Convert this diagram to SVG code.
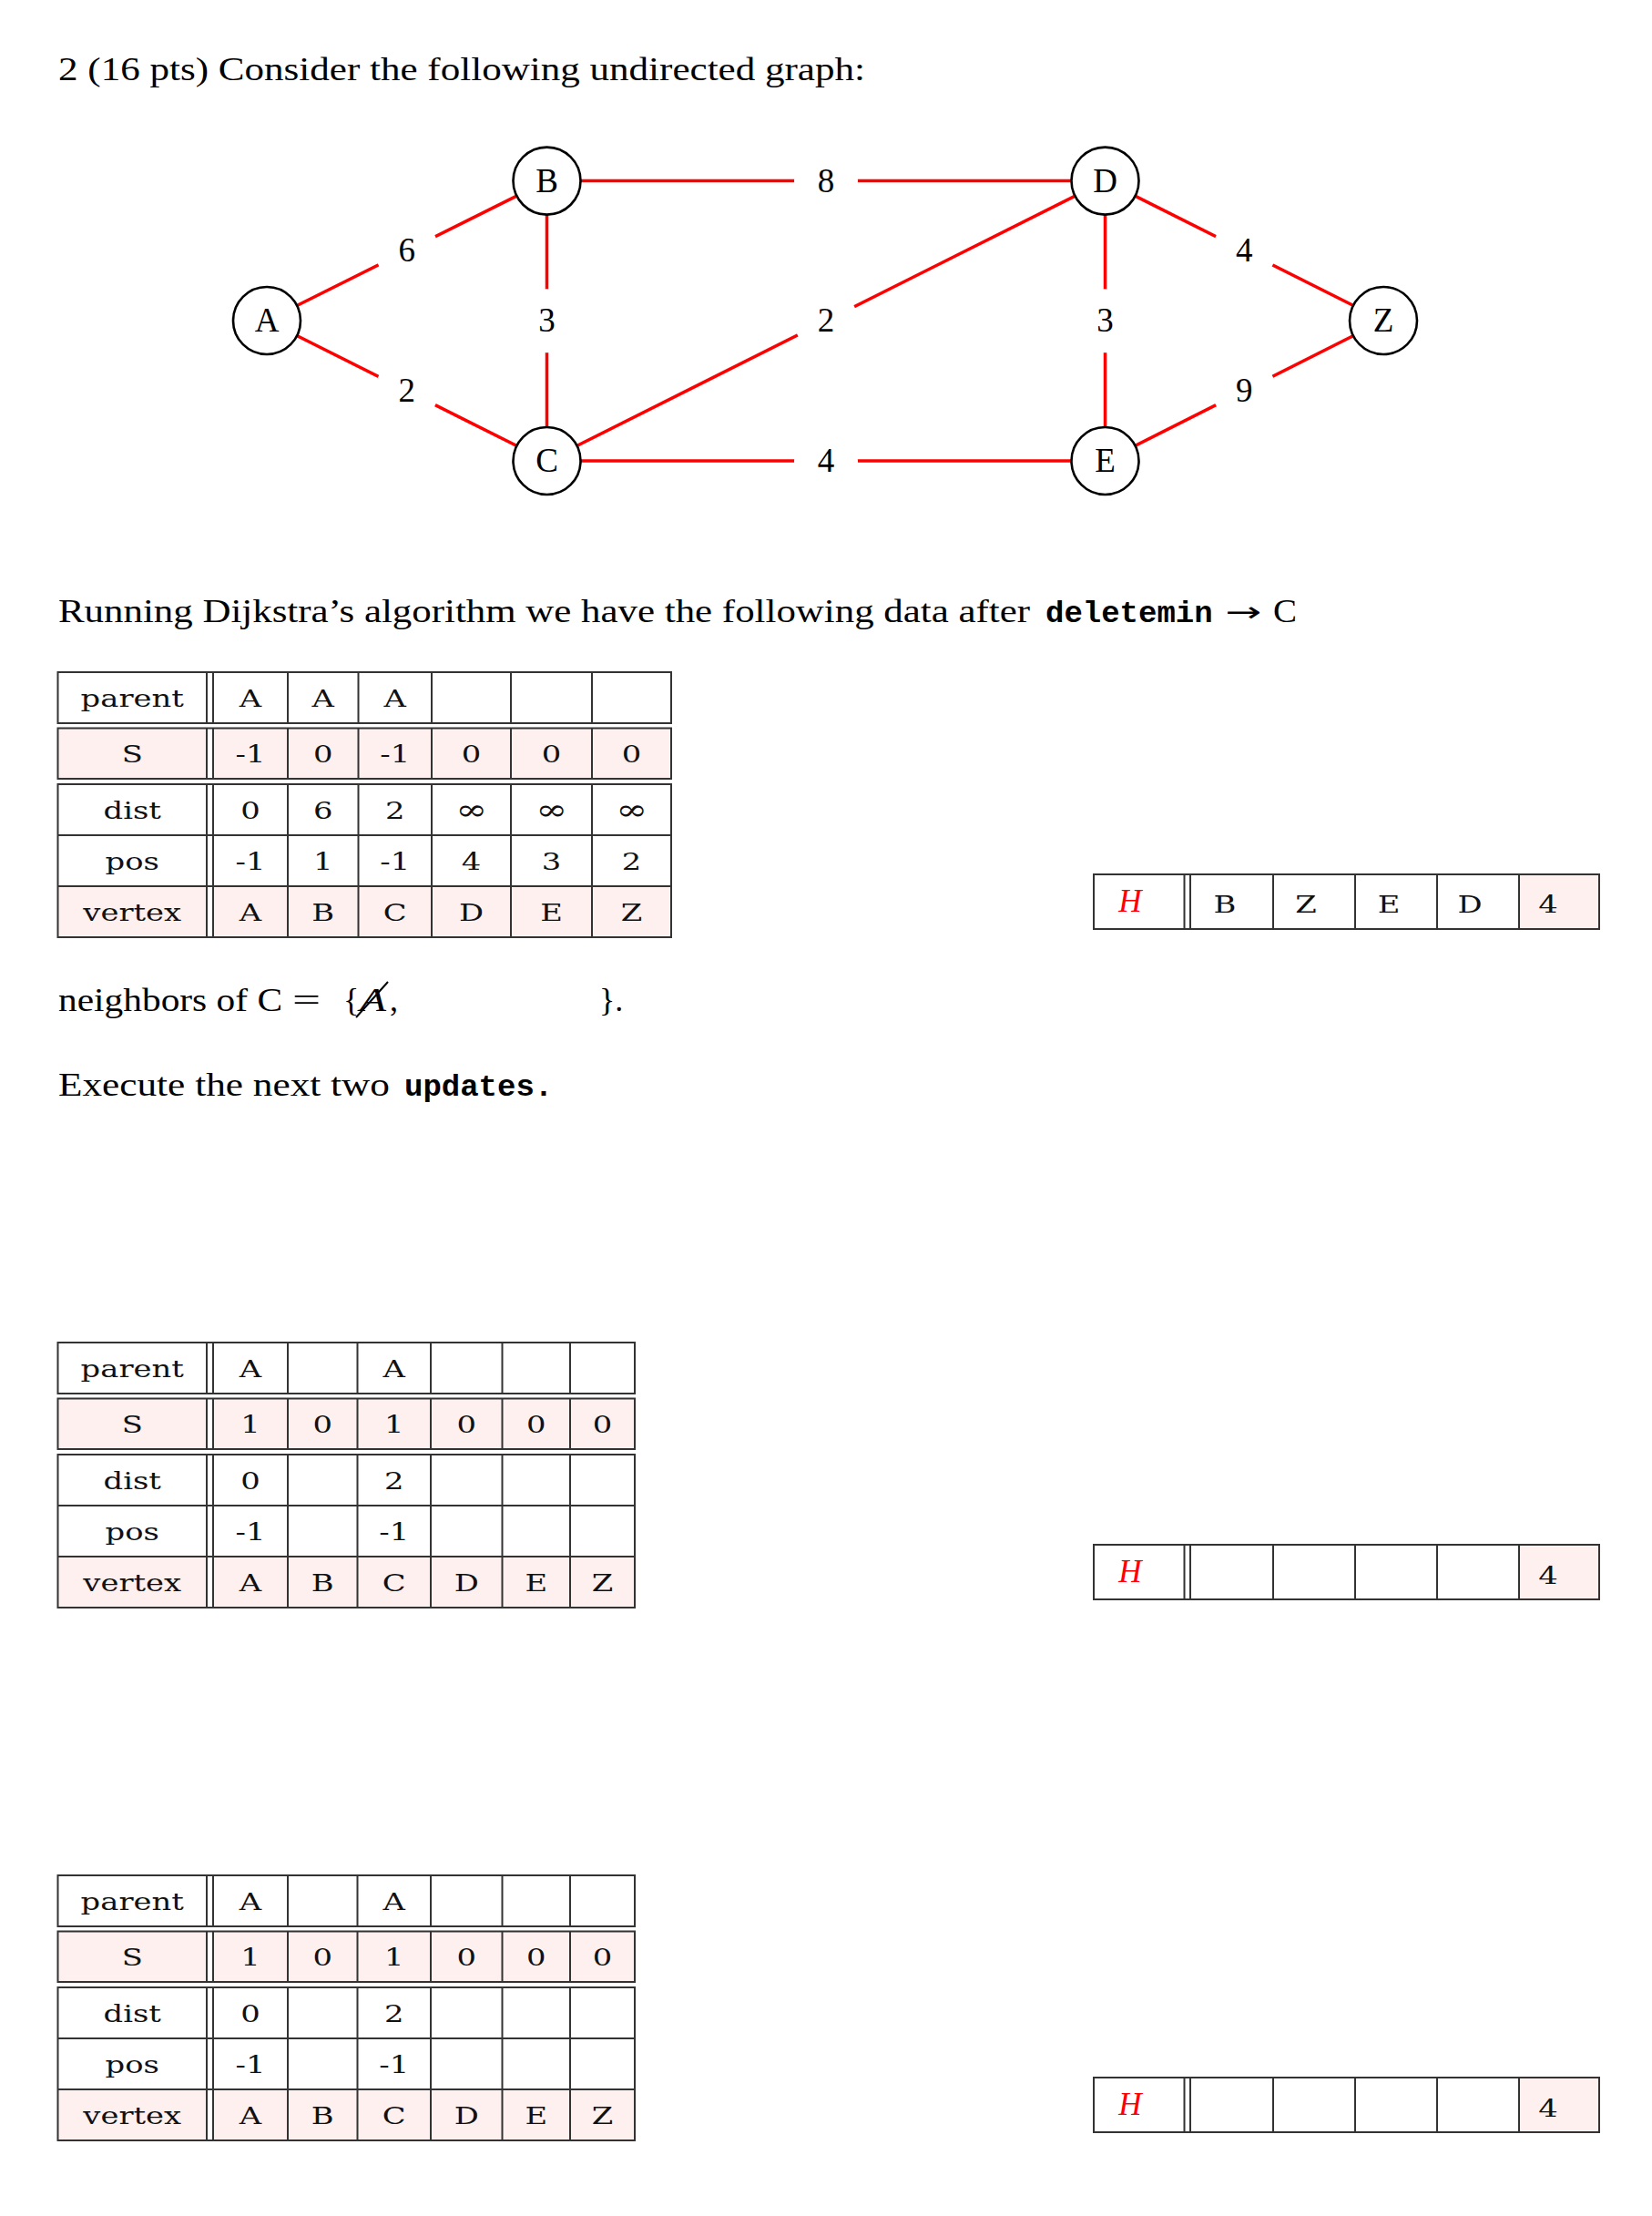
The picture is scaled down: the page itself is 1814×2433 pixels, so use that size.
<svg xmlns="http://www.w3.org/2000/svg" width="1814" height="2433" viewBox="0 0 1814 2433">
<style>
.t{font-family:"Liberation Serif","DejaVu Serif",serif;font-size:36px;fill:#000}
.ar{font-family:"DejaVu Sans",sans-serif;font-size:30px;fill:#000}
.tt{font-family:"Liberation Mono","DejaVu Sans Mono",monospace;font-size:34px;font-weight:bold;fill:#000}
.edge{stroke:#ff0000;stroke-width:3.5;fill:none}
.node circle{fill:#fff;stroke:#000;stroke-width:2.6}
.nl{font-family:"Liberation Serif","DejaVu Serif",serif;font-size:37px;text-anchor:middle;fill:#000}
.lbl circle{fill:#fff}
.grid{stroke:#333;stroke-width:2;fill:none}
.pink{fill:#fff0f0}
.wht{fill:#fff}
.c{font-family:"DejaVu Serif",serif;font-size:26px;text-anchor:middle;fill:#111}
.inf{font-size:32px}
.h{font-family:"Liberation Serif","DejaVu Serif",serif;font-style:italic;font-size:35px;fill:#ff0000;text-anchor:middle}
</style>
<rect width="1814" height="2433" fill="#fff"/>

<g id="texts">
<text class="t" x="64" y="88" textLength="886" lengthAdjust="spacingAndGlyphs">2 (16 pts) Consider the following undirected graph:</text>
<text class="t" x="64" y="683" textLength="1067" lengthAdjust="spacingAndGlyphs">Running Dijkstra’s algorithm we have the following data after</text>
<text class="tt" x="1148" y="683">deletemin</text>
<text class="ar" x="1345" y="682" textLength="40" lengthAdjust="spacingAndGlyphs">→</text>
<text class="t" x="1398" y="683" textLength="26" lengthAdjust="spacingAndGlyphs">C</text>
<text class="t" x="64" y="1110" textLength="246" lengthAdjust="spacingAndGlyphs">neighbors of C</text>
<text class="t" x="321" y="1110" textLength="31" lengthAdjust="spacingAndGlyphs">=</text>
<text class="t" x="377" y="1110">{</text>
<text class="t" x="395" y="1110" font-style="italic" textLength="29" lengthAdjust="spacingAndGlyphs">A</text>
<text class="t" x="428" y="1110">,</text>
<line x1="391" y1="1117" x2="426" y2="1078" stroke="#000" stroke-width="2"/>
<text class="t" x="658" y="1110">}.</text>
<text class="t" x="64" y="1203" textLength="364" lengthAdjust="spacingAndGlyphs">Execute the next two</text>
<text class="tt" x="444" y="1203">updates.</text>
</g>

<g id="connectors">
<line class="edge" x1="293" y1="352" x2="600.5" y2="198.6"/>
<line class="edge" x1="293" y1="352" x2="600.5" y2="506"/>
<line class="edge" x1="600.5" y1="198.6" x2="600.5" y2="506"/>
<line class="edge" x1="600.5" y1="198.6" x2="1213.5" y2="198.6"/>
<line class="edge" x1="600.5" y1="506" x2="1213.5" y2="198.6"/>
<line class="edge" x1="600.5" y1="506" x2="1213.5" y2="506"/>
<line class="edge" x1="1213.5" y1="198.6" x2="1213.5" y2="506"/>
<line class="edge" x1="1213.5" y1="198.6" x2="1519" y2="352"/>
<line class="edge" x1="1213.5" y1="506" x2="1519" y2="352"/>
<g class="lbl"><circle cx="446.75" cy="275.3" r="35"/><text class="nl" x="446.75" y="287.3">6</text></g>
<g class="lbl"><circle cx="446.75" cy="429" r="35"/><text class="nl" x="446.75" y="441">2</text></g>
<g class="lbl"><circle cx="600.5" cy="352.3" r="35"/><text class="nl" x="600.5" y="364.3">3</text></g>
<g class="lbl"><circle cx="907" cy="198.6" r="35"/><text class="nl" x="907" y="210.6">8</text></g>
<g class="lbl"><circle cx="907" cy="352.3" r="35"/><text class="nl" x="907" y="364.3">2</text></g>
<g class="lbl"><circle cx="907" cy="506" r="35"/><text class="nl" x="907" y="518">4</text></g>
<g class="lbl"><circle cx="1213.5" cy="352.3" r="35"/><text class="nl" x="1213.5" y="364.3">3</text></g>
<g class="lbl"><circle cx="1366.25" cy="275.3" r="35"/><text class="nl" x="1366.25" y="287.3">4</text></g>
<g class="lbl"><circle cx="1366.25" cy="429" r="35"/><text class="nl" x="1366.25" y="441">9</text></g>
</g>

<g id="node-A" class="node"><circle cx="293" cy="352" r="37"/><text class="nl" x="293" y="364">A</text></g>
<g id="node-B" class="node"><circle cx="600.5" cy="198.6" r="37"/><text class="nl" x="600.5" y="210.6">B</text></g>
<g id="node-C" class="node"><circle cx="600.5" cy="506" r="37"/><text class="nl" x="600.5" y="518">C</text></g>
<g id="node-D" class="node"><circle cx="1213.5" cy="198.6" r="37"/><text class="nl" x="1213.5" y="210.6">D</text></g>
<g id="node-E" class="node"><circle cx="1213.5" cy="506" r="37"/><text class="nl" x="1213.5" y="518">E</text></g>
<g id="node-Z" class="node"><circle cx="1519" cy="352" r="37"/><text class="nl" x="1519" y="364">Z</text></g>

<!-- Table 1 -->
<g id="table1">
<rect class="pink" x="63.5" y="799.5" width="673.5" height="55.5"/>
<rect class="pink" x="63.5" y="973" width="673.5" height="56"/>
<rect class="wht" x="228" y="799.5" width="5" height="55.5"/>
<rect class="wht" x="228" y="973" width="5" height="56"/>
<rect class="grid" x="63.5" y="738" width="673.5" height="56"/>
<path class="grid" d="M227 738V794M234 738V794M316 738V794M393.5 738V794M474 738V794M561 738V794M650 738V794"/>
<rect class="grid" x="63.5" y="799.5" width="673.5" height="55.5"/>
<path class="grid" d="M227 799.5V855M234 799.5V855M316 799.5V855M393.5 799.5V855M474 799.5V855M561 799.5V855M650 799.5V855"/>
<rect class="grid" x="63.5" y="861" width="673.5" height="168"/>
<path class="grid" d="M63.5 917H737M63.5 973H737M227 861V1029M234 861V1029M316 861V1029M393.5 861V1029M474 861V1029M561 861V1029M650 861V1029"/>
<g transform="scale(1.3,1)">
<text class="c" x="111.73" y="776">parent</text>
<text class="c" x="211.54" y="776">A</text><text class="c" x="272.88" y="776">A</text><text class="c" x="333.65" y="776">A</text>
<text class="c" x="111.73" y="837">S</text>
<text class="c" x="211.54" y="837">-1</text><text class="c" x="272.88" y="837">0</text><text class="c" x="333.65" y="837">-1</text><text class="c" x="398.08" y="837">0</text><text class="c" x="465.77" y="837">0</text><text class="c" x="533.46" y="837">0</text>
<text class="c" x="111.73" y="899">dist</text>
<text class="c" x="211.54" y="899">0</text><text class="c" x="272.88" y="899">6</text><text class="c" x="333.65" y="899">2</text><text class="c inf" x="398.08" y="900">∞</text><text class="c inf" x="465.77" y="900">∞</text><text class="c inf" x="533.46" y="900">∞</text>
<text class="c" x="111.73" y="955">pos</text>
<text class="c" x="211.54" y="955">-1</text><text class="c" x="272.88" y="955">1</text><text class="c" x="333.65" y="955">-1</text><text class="c" x="398.08" y="955">4</text><text class="c" x="465.77" y="955">3</text><text class="c" x="533.46" y="955">2</text>
<text class="c" x="111.73" y="1011">vertex</text>
<text class="c" x="211.54" y="1011">A</text><text class="c" x="272.88" y="1011">B</text><text class="c" x="333.65" y="1011">C</text><text class="c" x="398.08" y="1011">D</text><text class="c" x="465.77" y="1011">E</text><text class="c" x="533.46" y="1011">Z</text>
</g>
</g>

<!-- Heap 1 -->
<g id="heap1">
<rect class="pink" x="1668" y="960" width="88" height="60"/>
<rect class="grid" x="1201" y="960" width="555" height="60"/>
<path class="grid" d="M1300.5 960V1020M1307 960V1020M1398 960V1020M1488 960V1020M1578 960V1020M1668 960V1020"/>
<text class="h" x="1241" y="1001">H</text>
<g transform="scale(1.3,1)">
<text class="c" x="1034.62" y="1002">B</text><text class="c" x="1103.08" y="1002">Z</text><text class="c" x="1173.08" y="1002">E</text><text class="c" x="1241.54" y="1002">D</text><text class="c" x="1307.69" y="1002">4</text>
</g>
</g>

<!-- Table 2 -->
<g id="table2">
<rect class="pink" x="63.5" y="1535.5" width="633.5" height="55.5"/>
<rect class="pink" x="63.5" y="1709" width="633.5" height="56"/>
<rect class="wht" x="228" y="1535.5" width="5" height="55.5"/>
<rect class="wht" x="228" y="1709" width="5" height="56"/>
<rect class="grid" x="63.5" y="1474" width="633.5" height="56"/>
<path class="grid" d="M227 1474V1530M234 1474V1530M316 1474V1530M392.5 1474V1530M473 1474V1530M551.5 1474V1530M626 1474V1530"/>
<rect class="grid" x="63.5" y="1535.5" width="633.5" height="55.5"/>
<path class="grid" d="M227 1535.5V1591M234 1535.5V1591M316 1535.5V1591M392.5 1535.5V1591M473 1535.5V1591M551.5 1535.5V1591M626 1535.5V1591"/>
<rect class="grid" x="63.5" y="1597" width="633.5" height="168"/>
<path class="grid" d="M63.5 1653H697M63.5 1709H697M227 1597V1765M234 1597V1765M316 1597V1765M392.5 1597V1765M473 1597V1765M551.5 1597V1765M626 1597V1765"/>
<g transform="scale(1.3,1)">
<text class="c" x="111.73" y="1512">parent</text>
<text class="c" x="211.54" y="1512">A</text><text class="c" x="332.88" y="1512">A</text>
<text class="c" x="111.73" y="1573">S</text>
<text class="c" x="211.54" y="1573">1</text><text class="c" x="272.5" y="1573">0</text><text class="c" x="332.88" y="1573">1</text><text class="c" x="394.04" y="1573">0</text><text class="c" x="452.88" y="1573">0</text><text class="c" x="508.85" y="1573">0</text>
<text class="c" x="111.73" y="1635">dist</text>
<text class="c" x="211.54" y="1635">0</text><text class="c" x="332.88" y="1635">2</text>
<text class="c" x="111.73" y="1691">pos</text>
<text class="c" x="211.54" y="1691">-1</text><text class="c" x="332.88" y="1691">-1</text>
<text class="c" x="111.73" y="1747">vertex</text>
<text class="c" x="211.54" y="1747">A</text><text class="c" x="272.5" y="1747">B</text><text class="c" x="332.88" y="1747">C</text><text class="c" x="394.04" y="1747">D</text><text class="c" x="452.88" y="1747">E</text><text class="c" x="508.85" y="1747">Z</text>
</g>
</g>

<!-- Heap 2 -->
<g id="heap2">
<rect class="pink" x="1668" y="1696" width="88" height="60"/>
<rect class="grid" x="1201" y="1696" width="555" height="60"/>
<path class="grid" d="M1300.5 1696V1756M1307 1696V1756M1398 1696V1756M1488 1696V1756M1578 1696V1756M1668 1696V1756"/>
<text class="h" x="1241" y="1737">H</text>
<g transform="scale(1.3,1)"><text class="c" x="1307.69" y="1739">4</text></g>
</g>

<!-- Table 3 -->
<g id="table3">
<rect class="pink" x="63.5" y="2120.5" width="633.5" height="55.5"/>
<rect class="pink" x="63.5" y="2294" width="633.5" height="56"/>
<rect class="wht" x="228" y="2120.5" width="5" height="55.5"/>
<rect class="wht" x="228" y="2294" width="5" height="56"/>
<rect class="grid" x="63.5" y="2059" width="633.5" height="56"/>
<path class="grid" d="M227 2059V2115M234 2059V2115M316 2059V2115M392.5 2059V2115M473 2059V2115M551.5 2059V2115M626 2059V2115"/>
<rect class="grid" x="63.5" y="2120.5" width="633.5" height="55.5"/>
<path class="grid" d="M227 2120.5V2176M234 2120.5V2176M316 2120.5V2176M392.5 2120.5V2176M473 2120.5V2176M551.5 2120.5V2176M626 2120.5V2176"/>
<rect class="grid" x="63.5" y="2182" width="633.5" height="168"/>
<path class="grid" d="M63.5 2238H697M63.5 2294H697M227 2182V2350M234 2182V2350M316 2182V2350M392.5 2182V2350M473 2182V2350M551.5 2182V2350M626 2182V2350"/>
<g transform="scale(1.3,1)">
<text class="c" x="111.73" y="2097">parent</text>
<text class="c" x="211.54" y="2097">A</text><text class="c" x="332.88" y="2097">A</text>
<text class="c" x="111.73" y="2158">S</text>
<text class="c" x="211.54" y="2158">1</text><text class="c" x="272.5" y="2158">0</text><text class="c" x="332.88" y="2158">1</text><text class="c" x="394.04" y="2158">0</text><text class="c" x="452.88" y="2158">0</text><text class="c" x="508.85" y="2158">0</text>
<text class="c" x="111.73" y="2220">dist</text>
<text class="c" x="211.54" y="2220">0</text><text class="c" x="332.88" y="2220">2</text>
<text class="c" x="111.73" y="2276">pos</text>
<text class="c" x="211.54" y="2276">-1</text><text class="c" x="332.88" y="2276">-1</text>
<text class="c" x="111.73" y="2332">vertex</text>
<text class="c" x="211.54" y="2332">A</text><text class="c" x="272.5" y="2332">B</text><text class="c" x="332.88" y="2332">C</text><text class="c" x="394.04" y="2332">D</text><text class="c" x="452.88" y="2332">E</text><text class="c" x="508.85" y="2332">Z</text>
</g>
</g>

<!-- Heap 3 -->
<g id="heap3">
<rect class="pink" x="1668" y="2281" width="88" height="60"/>
<rect class="grid" x="1201" y="2281" width="555" height="60"/>
<path class="grid" d="M1300.5 2281V2341M1307 2281V2341M1398 2281V2341M1488 2281V2341M1578 2281V2341M1668 2281V2341"/>
<text class="h" x="1241" y="2322">H</text>
<g transform="scale(1.3,1)"><text class="c" x="1307.69" y="2324">4</text></g>
</g>
</svg>
